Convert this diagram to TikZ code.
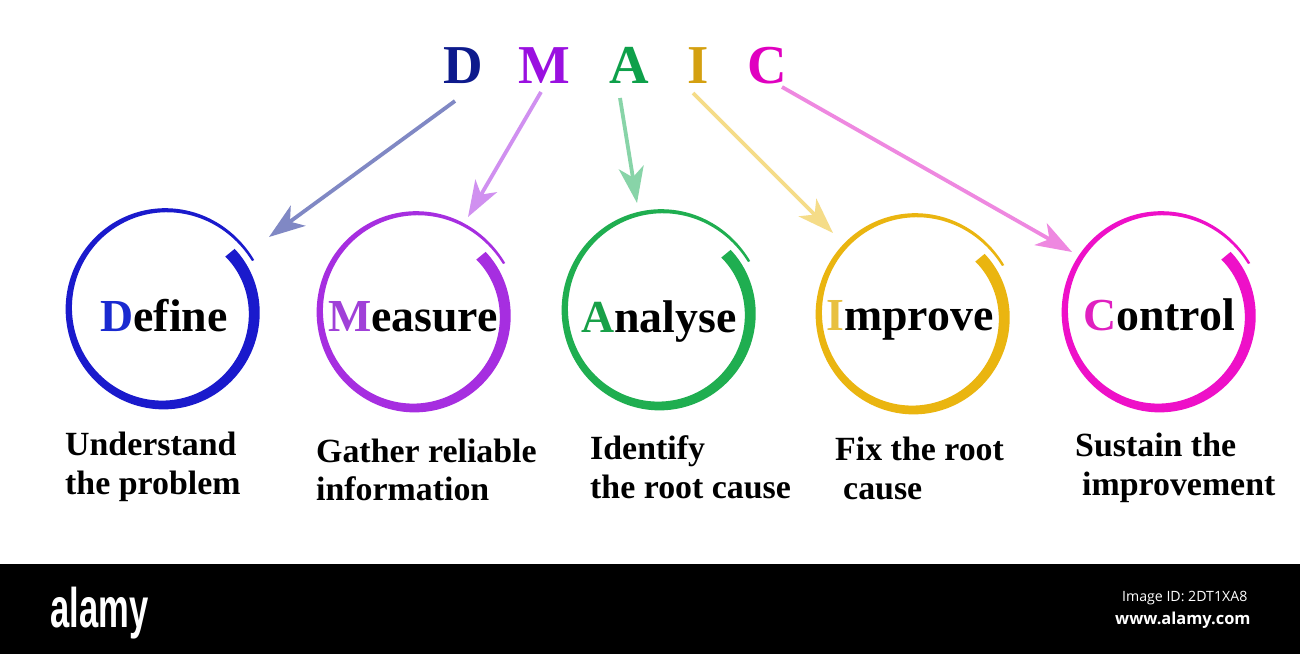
\documentclass[tikz,border=0pt]{standalone}
\usepackage{fontspec}
\usepackage{graphicx}
\setmainfont{Liberation Serif}
\newfontfamily\wmfont{Open Sans}
\newfontfamily\logofont{Liberation Sans}
\usetikzlibrary{arrows.meta}
\definecolor{hD}{HTML}{0D1A8C}
\definecolor{hM}{HTML}{9A10E0}
\definecolor{hA}{HTML}{0EA04A}
\definecolor{hI}{HTML}{D4A010}
\definecolor{hC}{HTML}{E000C0}
\definecolor{rD}{HTML}{1A1ACC}
\definecolor{rM}{HTML}{A62EE0}
\definecolor{rA}{HTML}{1FAE50}
\definecolor{rI}{HTML}{EAB510}
\definecolor{rC}{HTML}{EE10C8}
\definecolor{lD}{HTML}{1A2AD0}
\definecolor{lM}{HTML}{A040D8}
\definecolor{lA}{HTML}{18A048}
\definecolor{lI}{HTML}{E8C040}
\definecolor{lC}{HTML}{E020C0}
\definecolor{aD}{HTML}{8088C4}
\definecolor{aM}{HTML}{D090F0}
\definecolor{aA}{HTML}{88D4A8}
\definecolor{aI}{HTML}{F5DC88}
\definecolor{aC}{HTML}{EE88E0}
\newcommand\brushring[3]{%
  \fill[#3, shift={(#1,#2)}, yscale=1.02]
   plot[domain=0:1, samples=160, variable=\t]
     ({-(28+372*\t)}:{96-2*\t-8*\t^6+5*(1-\t)^8+1.2+4.8*\t})
   -- plot[domain=1:0, samples=160, variable=\t]
     ({-(28+372*\t)}:{96-2*\t-8*\t^6+5*(1-\t)^8-1.2-4.8*\t})
   -- cycle;}
\begin{document}
\begin{tikzpicture}[x=1bp,y=-1bp,
  head/.style={anchor=base west, inner sep=0pt, font=\fontsize{55}{60}\selectfont\bfseries},
  ringtext/.style={anchor=base, inner sep=0pt, font=\fontsize{46}{50}\selectfont\bfseries},
  desc/.style={anchor=base west, inner sep=0pt, font=\fontsize{34}{38}\selectfont\bfseries},
  link/.style={line width=3.8bp, -{Stealth[length=36bp, width=25bp, inset=10bp]}}]
\useasboundingbox (0,0) rectangle (1300,654);
\fill[white] (0,0) rectangle (1300,654);
\fill[black] (0,564) rectangle (1300,654);

% header letters
\node[head, text=hD] (hD) at (443,84) {D};
\node[head, text=hM] (hM) at (518,84) {M};
\node[head, text=hA] (hA) at (609,84) {A};
\node[head, text=hI] (hI) at (687,84) {I};
\node[head, text=hC] (hC) at (747,84) {C};

% brush rings
\brushring{164}{309}{rD}
\brushring{415}{312}{rM}
\brushring{660}{310}{rA}
\brushring{914}{314}{rI}
\brushring{1160}{312}{rC}

% ring labels
\node[ringtext] (nD) at (164,331) {\textcolor{lD}{D}efine};
\node[ringtext] (nM) at (413,331) {\textcolor{lM}{M}easure};
\node[ringtext] (nA) at (659,332) {\textcolor{lA}{A}nalyse};
\node[ringtext] (nI) at (910,330) {\textcolor{lI}{I}mprove};
\node[ringtext] (nC) at (1159,330) {\textcolor{lC}{C}ontrol};

% arrows
\coordinate (sD) at (455,101); \coordinate (eD) at (269,237);
\coordinate (sM) at (541,92);  \coordinate (eM) at (468,217);
\coordinate (sA) at (620,98);  \coordinate (eA) at (637,203);
\coordinate (sI) at (693,93);  \coordinate (eI) at (833,233);
\coordinate (sC) at (782,87);  \coordinate (eC) at (1072,252);
\draw[link, aD] (sD) -- (eD);
\draw[link, aM] (sM) -- (eM);
\draw[link, aA] (sA) -- (eA);
\draw[link, aI] (sI) -- (eI);
\draw[link, aC] (sC) -- (eC);

% descriptions
\node[desc] (d1a) at (65,455) {Understand};
\node[desc] (d1b) at (65,494) {the problem};
\node[desc] (d2a) at (316,462) {Gather reliable};
\node[desc] (d2b) at (316,500) {information};
\node[desc] (d3a) at (590,459) {Identify};
\node[desc] (d3b) at (590,498) {the root cause};
\node[desc] (d4a) at (835,460) {Fix the root};
\node[desc] (d4b) at (843,499) {cause};
\node[desc] (d5a) at (1075,456) {Sustain the};
\node[desc] (d5b) at (1082,495) {improvement};

% watermark band
\node[anchor=base west, inner sep=0pt, text=white, font=\logofont\bfseries\fontsize{56}{60}\selectfont] (logo) at (50,627) {\scalebox{0.62}[1]{alamy}};
\node[anchor=base west, inner sep=0pt, text=white, font=\wmfont\fontsize{14.2}{16}\selectfont] (imgid) at (1122,601) {Image ID: 2DT1XA8};
\node[anchor=base west, inner sep=0pt, text=white, font=\wmfont\bfseries\fontsize{16.5}{20}\selectfont] (site) at (1115,624) {www.alamy.com};
\end{tikzpicture}
\end{document}
